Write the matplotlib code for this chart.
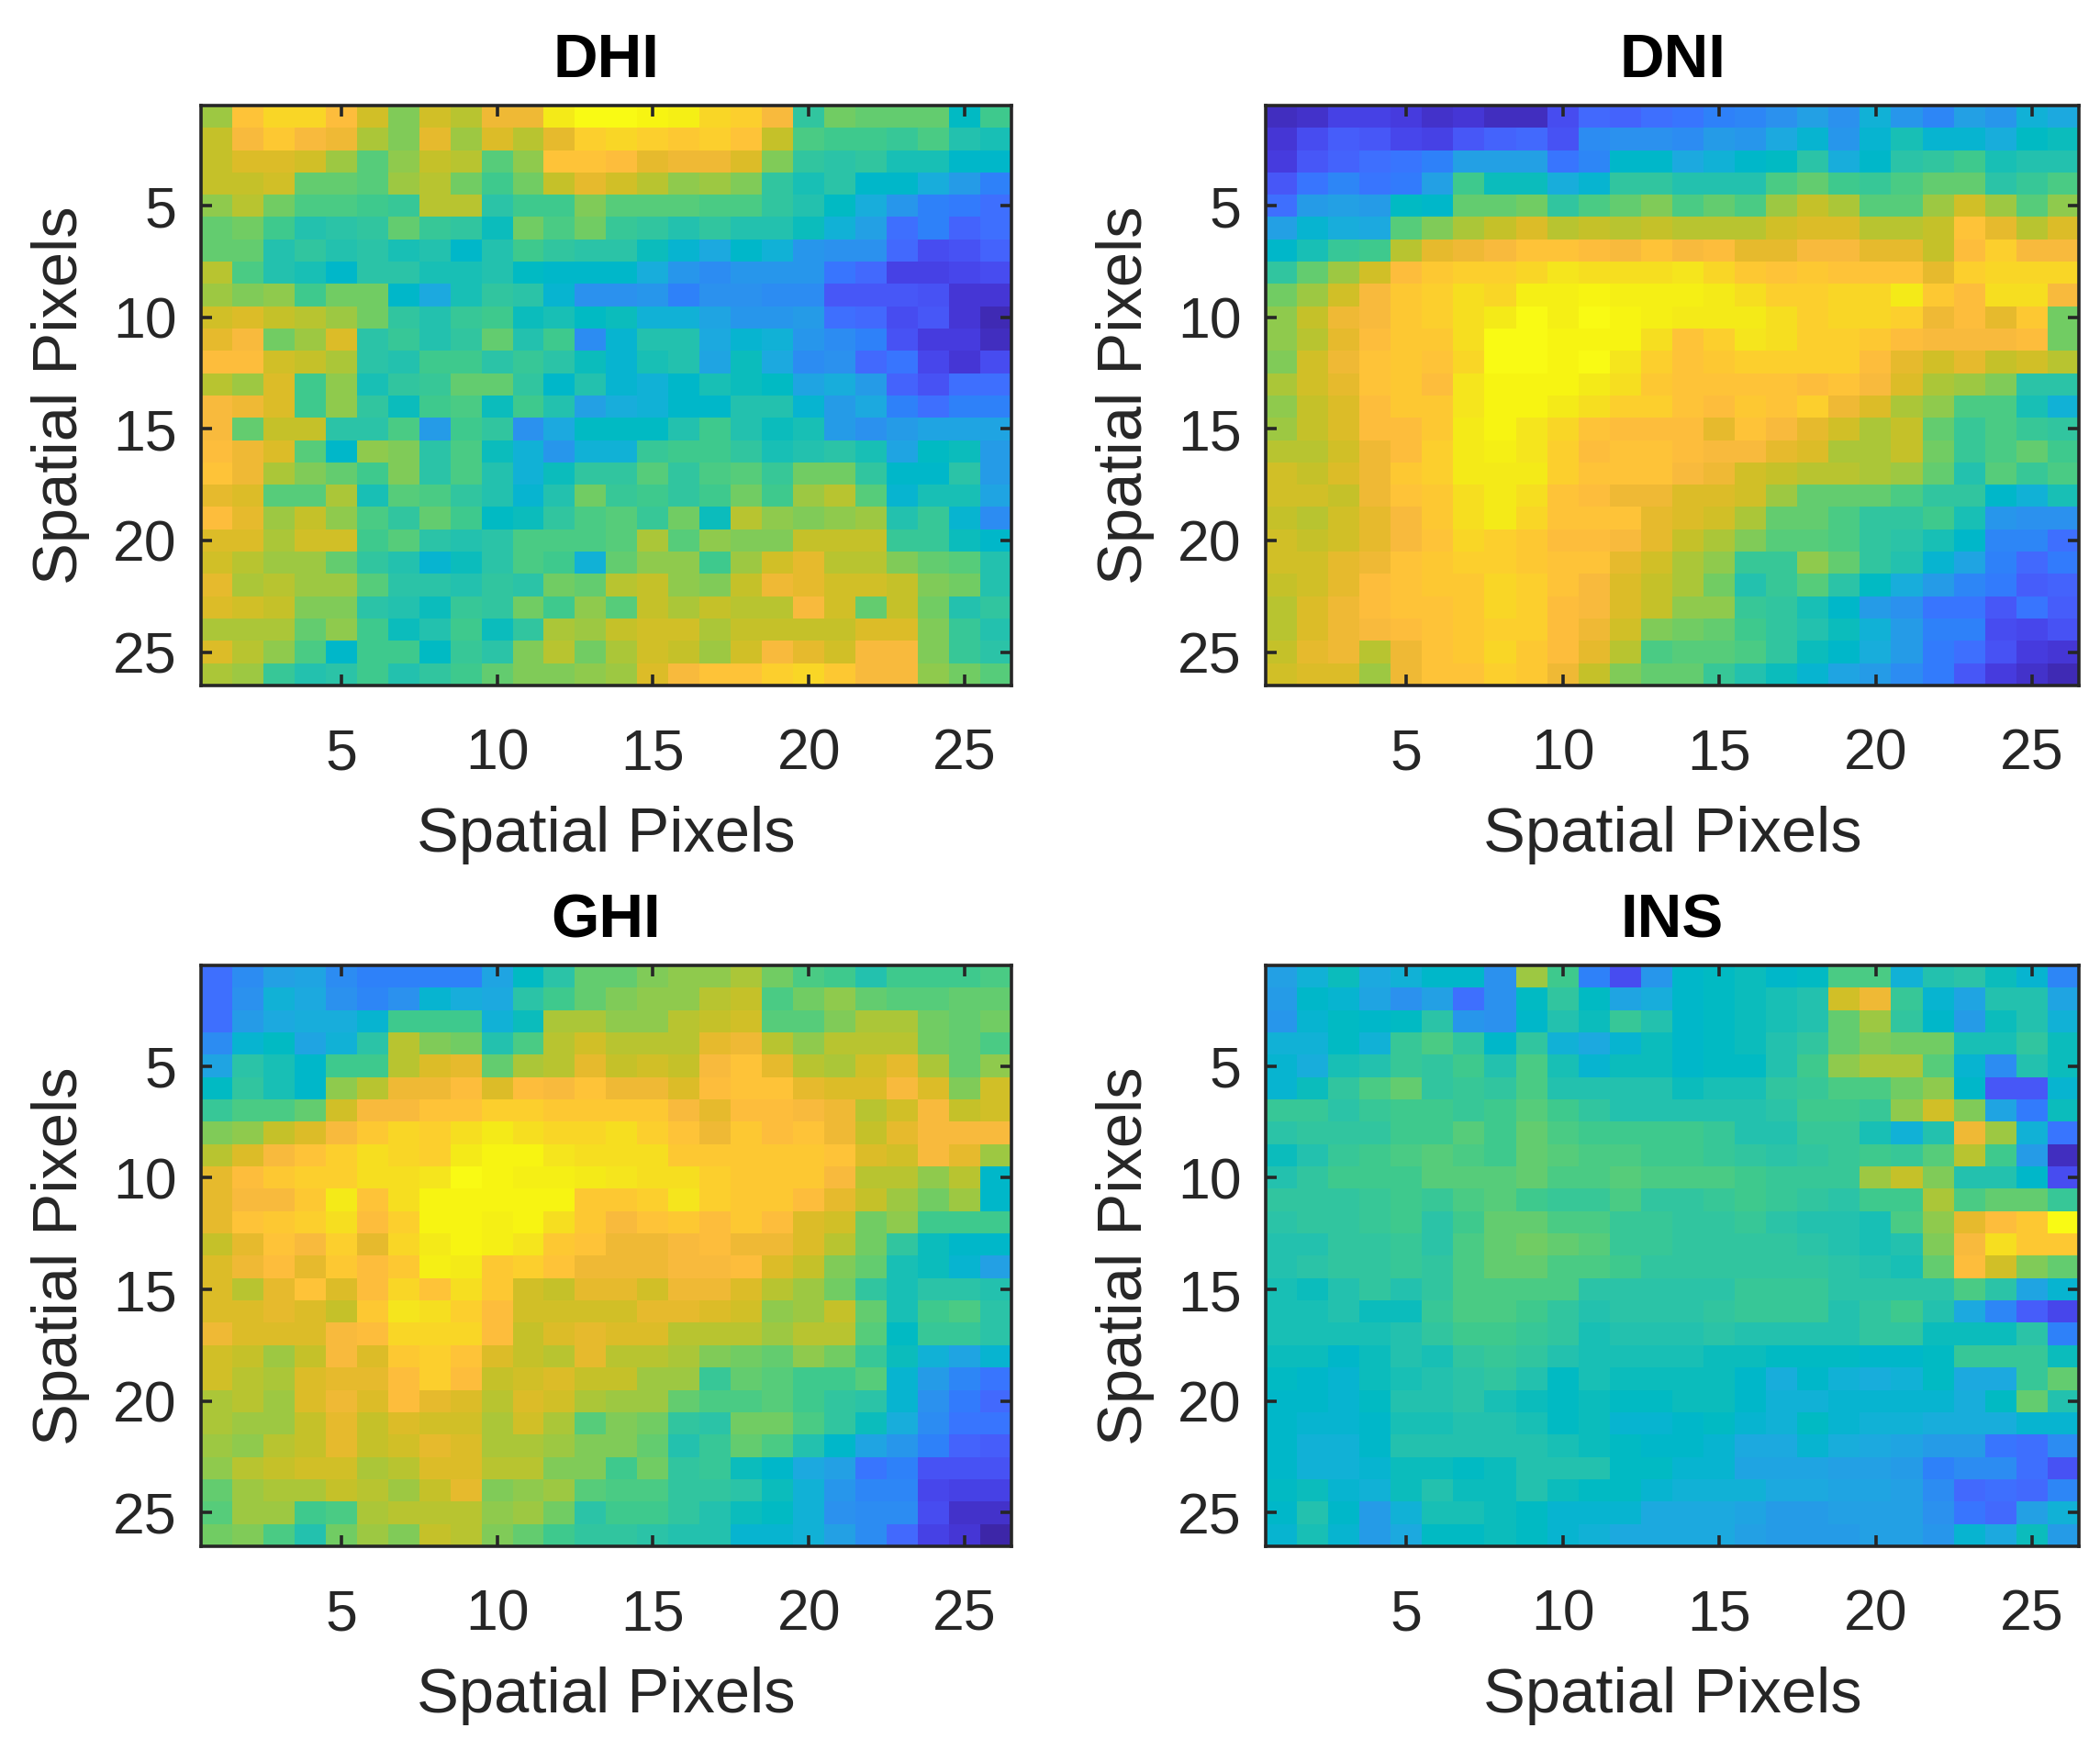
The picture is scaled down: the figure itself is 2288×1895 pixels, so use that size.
import numpy as np
import matplotlib
matplotlib.use("Agg")
import matplotlib.pyplot as plt
from matplotlib.colors import ListedColormap

plt.rcParams['font.family'] = ['Liberation Sans', 'DejaVu Sans']

titles = ["DHI", "DNI", "GHI", "INS"]
tick_values = [5, 10, 15, 20, 25]
axis_label = "Spatial Pixels"

dhi = [
[44,54,57,57,53,48,42,48,46,51,51,60,63,63,62,61,57,56,52,35,41,40,40,40,30,37],
[47,52,55,52,51,45,42,50,44,49,46,50,56,57,56,55,56,54,47,38,37,37,36,38,33,32],
[47,49,49,48,44,39,43,47,46,39,43,54,54,53,50,51,51,49,42,35,34,35,32,32,29,29],
[47,47,48,40,40,39,44,46,41,37,41,47,50,48,46,43,44,42,35,32,34,29,29,26,22,17],
[43,46,41,38,38,37,36,46,46,34,37,37,42,39,39,39,38,38,35,33,30,26,21,17,16,14],
[40,41,37,33,34,35,40,36,35,31,41,38,41,36,35,33,35,33,33,31,27,23,14,17,12,14],
[40,40,33,35,33,34,32,33,29,33,37,35,34,34,31,28,25,29,27,21,20,20,13,8,9,12],
[46,38,33,32,29,34,34,32,32,33,30,29,29,29,26,21,19,21,21,21,15,13,6,6,7,8],
[44,42,43,37,41,41,29,25,32,35,34,28,20,20,21,17,20,20,19,19,10,10,10,9,4,4],
[48,49,47,46,44,41,35,33,36,37,31,32,30,31,27,27,24,21,21,22,14,13,8,10,4,1],
[50,52,41,44,49,34,36,33,35,40,33,37,19,28,33,33,25,28,27,21,19,17,9,5,5,2],
[53,53,48,47,45,34,33,37,37,34,36,34,31,28,32,33,24,31,25,19,20,13,15,7,4,8],
[46,44,49,37,43,32,35,36,40,40,35,29,33,28,27,29,32,31,30,24,26,22,12,9,14,14],
[52,51,49,37,43,35,31,37,38,31,37,33,23,26,27,29,29,33,33,28,22,25,17,14,17,17],
[52,40,47,47,34,34,38,22,37,35,20,25,30,30,30,33,37,33,31,32,22,20,22,24,24,24],
[53,51,49,39,29,43,42,34,38,31,27,21,27,27,36,37,37,35,32,33,34,32,24,30,31,22],
[54,51,45,42,40,37,42,34,38,33,27,31,35,35,39,35,38,39,36,41,41,35,29,29,34,22],
[50,49,39,39,45,32,39,38,35,33,28,33,41,36,37,35,37,41,37,44,46,39,28,32,32,24],
[53,50,44,47,43,38,35,40,37,30,31,35,38,39,36,41,31,46,43,42,43,44,33,36,28,19],
[49,49,45,48,48,37,39,34,33,34,38,38,38,39,45,39,43,42,42,47,47,47,36,36,31,29],
[48,46,44,44,40,35,33,28,31,34,38,37,27,40,43,43,37,44,48,50,46,46,42,40,39,33],
[50,45,46,44,44,39,34,34,33,35,34,41,40,46,47,43,42,47,51,50,48,48,47,42,41,33],
[49,48,47,42,42,34,33,31,36,35,41,37,43,39,47,45,47,46,46,52,48,40,47,41,33,35],
[45,45,45,40,43,37,31,33,37,31,35,45,44,47,48,48,45,47,47,47,47,49,49,42,36,33],
[49,46,43,38,29,37,37,30,36,34,42,46,41,45,48,47,44,48,52,50,48,52,52,42,36,34],
[45,44,36,33,34,37,33,35,37,40,42,42,43,44,49,52,54,54,56,57,55,52,52,43,41,39],
]

dni = [
[2,3,6,6,5,3,4,2,2,8,13,12,14,15,17,18,20,23,20,27,21,18,23,21,27,25],
[4,8,11,10,7,6,10,12,13,9,19,20,20,19,22,21,25,28,21,28,32,28,28,26,30,31],
[5,10,12,14,15,17,23,23,23,15,18,29,29,25,27,29,30,34,26,29,34,35,37,32,33,33],
[10,15,18,15,16,23,37,31,31,26,28,35,35,33,33,33,38,40,37,36,38,40,40,34,36,38],
[14,22,23,22,30,29,40,40,41,35,38,40,42,38,40,38,44,47,45,39,39,44,48,44,39,43],
[23,28,26,25,39,42,45,47,49,46,47,46,47,46,46,46,48,49,49,46,46,47,54,50,46,49],
[29,32,36,37,46,50,51,52,54,54,53,52,54,52,53,50,50,52,52,50,50,47,53,56,52,52],
[35,40,44,48,53,55,56,56,57,59,58,58,58,59,57,55,54,55,54,54,54,50,56,57,57,57],
[41,44,48,52,55,56,58,57,61,61,62,61,61,61,60,58,56,56,57,57,60,55,53,58,58,52],
[43,47,51,52,55,56,58,60,63,61,63,62,61,60,60,60,58,56,57,57,56,51,53,50,55,41],
[43,46,50,53,55,55,58,63,63,62,62,62,58,54,56,59,58,56,56,55,53,52,52,52,53,41],
[42,48,51,54,55,54,57,63,63,62,63,59,56,54,55,56,56,56,56,53,50,48,50,47,48,46],
[45,48,50,54,55,53,59,62,62,62,60,58,55,54,54,54,54,53,54,52,49,45,44,42,34,34],
[43,47,49,53,55,55,59,62,62,60,58,56,56,54,53,55,54,56,51,49,45,43,38,38,32,27],
[44,47,49,53,53,55,60,62,59,57,54,53,53,53,50,54,52,50,48,45,47,40,36,38,36,35],
[46,46,48,51,53,56,60,61,59,56,53,54,54,53,52,52,50,49,45,45,47,41,36,38,40,37],
[48,47,49,51,55,56,60,60,60,56,54,54,54,52,51,48,47,46,46,45,44,40,33,39,36,38],
[48,48,47,51,54,55,58,60,58,54,53,51,51,49,49,48,44,40,40,40,38,35,35,29,27,32],
[47,46,48,50,52,55,58,60,57,54,54,54,50,49,48,45,40,40,38,35,35,37,32,21,20,20],
[48,47,48,50,52,54,57,56,55,53,53,52,50,47,45,42,39,39,38,35,34,32,29,18,18,14],
[48,48,50,51,54,55,56,56,55,54,54,50,48,45,43,36,36,43,40,35,33,28,24,17,13,16],
[47,48,50,53,54,55,55,57,56,54,52,49,47,45,41,33,36,39,34,30,26,22,18,16,11,12],
[46,49,51,53,54,54,55,57,56,53,52,49,47,43,43,36,35,32,29,22,20,15,15,10,15,11],
[46,49,51,52,53,54,55,56,56,53,51,48,42,41,40,37,35,33,31,27,22,17,17,8,7,9],
[47,50,51,46,51,54,55,57,55,53,50,46,38,39,39,38,35,31,29,26,22,16,14,9,5,4],
[48,49,49,44,51,54,54,56,55,51,47,42,40,40,36,33,31,28,24,22,19,16,10,5,3,1],
]

ghi = [
[14,19,23,24,19,17,17,17,17,24,30,34,40,40,42,43,43,45,41,38,37,33,37,37,37,38],
[14,20,27,25,20,18,20,28,26,25,34,37,40,42,43,43,46,47,38,41,43,40,39,39,40,40],
[14,22,25,26,26,28,37,37,37,27,31,45,45,43,43,46,47,48,39,39,42,45,45,41,40,41],
[19,28,30,24,27,34,46,42,41,33,38,46,48,46,46,46,50,51,46,43,46,46,46,41,40,38],
[24,34,32,29,37,37,46,49,50,40,45,46,50,47,48,47,52,54,50,46,45,48,50,45,40,43],
[30,35,32,29,43,46,51,51,53,49,53,52,54,51,51,49,53,54,54,50,49,49,52,49,42,48],
[36,38,38,40,48,52,52,54,54,56,56,55,55,55,55,52,50,53,53,52,51,46,48,52,47,48],
[42,43,47,49,52,55,57,56,58,60,58,57,57,58,56,54,51,55,53,54,51,47,50,52,52,52],
[46,49,52,54,56,58,57,56,60,62,62,59,58,58,58,55,55,55,55,55,54,49,48,52,50,44],
[50,53,55,56,56,58,58,59,63,62,61,61,60,59,58,58,56,55,55,55,52,46,46,43,46,29],
[50,52,52,55,60,54,58,62,62,62,62,62,55,55,56,59,56,55,55,53,50,47,44,41,44,29],
[50,54,55,56,58,53,56,62,62,61,62,58,55,52,54,55,53,55,53,49,48,41,43,37,37,37],
[47,50,54,52,56,50,57,60,62,61,59,55,54,51,51,52,53,51,51,49,46,41,35,31,29,29],
[49,51,53,50,55,53,55,61,60,55,56,54,51,51,51,52,52,53,49,47,42,40,32,31,28,23],
[49,46,50,54,49,53,57,54,58,55,48,47,50,50,48,51,51,49,46,44,41,35,32,34,34,33],
[49,49,50,49,47,55,59,58,56,53,48,48,48,48,50,50,49,48,43,44,47,40,32,37,38,34],
[51,49,49,49,52,53,57,57,57,53,47,49,50,49,49,46,46,46,44,46,46,39,30,36,36,34],
[48,47,44,47,52,49,55,56,54,49,47,46,50,46,46,45,42,41,40,43,41,36,31,27,24,28],
[48,46,45,49,50,50,53,56,53,47,48,49,47,47,44,44,36,40,39,37,37,39,28,22,18,15],
[45,46,44,49,51,49,53,50,49,46,49,48,45,44,44,40,38,38,39,37,35,34,28,20,16,13],
[45,44,44,47,50,47,49,48,48,45,48,45,39,42,41,35,34,41,41,38,35,31,26,19,15,15],
[44,43,46,47,50,47,48,50,49,45,45,44,42,42,40,33,36,40,38,33,29,24,21,17,12,11],
[43,46,47,48,48,45,46,49,49,46,46,42,42,37,41,35,36,31,29,25,23,15,17,9,9,9],
[40,44,45,45,47,46,44,47,50,42,43,44,39,38,38,35,35,34,31,27,21,18,18,7,6,6],
[39,44,44,37,38,45,46,46,46,43,44,41,34,37,37,35,33,31,30,27,20,19,19,8,3,3],
[41,42,38,33,41,44,42,47,46,42,40,37,35,35,34,33,33,28,28,27,23,19,13,6,4,0],
]

ins = [
[23,27,31,25,27,29,29,20,44,37,17,8,21,29,30,31,29,30,38,38,27,33,34,31,28,18],
[22,29,28,24,20,23,14,20,30,35,30,24,26,29,30,31,32,33,48,51,36,28,24,33,33,24],
[21,28,30,29,30,34,21,20,29,33,31,36,33,29,30,31,32,33,40,44,35,29,22,31,33,27],
[27,27,30,27,36,38,35,29,35,27,25,28,31,29,30,31,33,35,40,42,41,41,32,32,35,31],
[28,26,32,33,36,35,37,33,38,32,28,31,31,29,30,30,33,37,43,45,45,39,28,19,33,31],
[28,31,35,38,40,35,36,35,38,33,33,33,33,31,32,32,35,36,38,38,41,43,29,10,10,28],
[36,36,34,36,37,37,36,37,39,37,35,33,33,33,33,33,34,37,37,36,43,48,42,24,16,31],
[34,35,35,35,37,37,39,37,40,38,37,37,37,37,36,33,33,36,36,32,27,33,51,44,27,15],
[31,33,36,37,38,39,38,37,40,39,38,38,37,37,36,35,34,35,36,37,36,39,46,37,22,2],
[33,35,37,37,37,39,39,39,40,38,38,39,38,38,38,37,36,36,36,44,47,42,33,33,29,8],
[35,35,35,36,37,36,38,39,37,36,36,38,35,35,36,37,36,35,34,37,37,45,38,40,40,36],
[34,35,35,36,37,34,37,40,40,38,38,36,36,35,35,36,34,33,33,32,38,43,50,53,55,63],
[33,33,35,35,36,34,38,40,41,40,39,36,36,35,35,35,35,34,33,32,33,42,52,58,55,55],
[33,34,35,35,36,35,38,40,40,38,38,37,35,35,35,35,35,35,34,33,32,40,53,48,42,40],
[32,31,33,35,33,35,38,38,38,38,34,34,34,34,34,36,36,36,34,34,34,34,38,34,24,28],
[32,32,33,31,31,36,38,38,37,35,33,34,34,34,35,36,36,36,33,35,37,33,25,18,11,7],
[32,32,32,32,33,35,37,37,36,35,32,33,33,33,34,33,33,33,33,35,35,31,31,31,34,17],
[31,31,29,31,33,32,35,36,35,33,32,32,32,32,31,31,30,30,30,29,29,30,36,36,36,31],
[30,29,28,31,32,33,34,35,33,30,32,31,31,31,31,29,26,29,27,26,27,30,25,25,36,40],
[29,29,28,30,33,33,34,32,31,30,31,30,30,31,31,29,27,27,28,28,28,28,26,30,40,33],
[29,28,28,29,32,32,33,33,32,30,31,28,28,29,30,28,27,30,28,27,27,26,26,26,28,28],
[29,27,27,29,33,33,33,33,33,32,31,30,29,29,28,25,25,28,26,25,24,22,22,15,14,19],
[29,27,27,28,31,31,30,31,33,33,33,30,30,28,28,24,24,24,23,23,22,17,19,19,14,9],
[30,31,28,27,31,33,31,31,33,31,30,30,28,27,27,27,25,25,24,24,23,19,13,14,13,18],
[29,33,29,22,27,32,32,31,30,28,28,28,25,25,25,24,22,22,23,23,23,20,15,13,23,27],
[28,32,28,22,25,30,30,31,30,28,27,25,25,25,25,23,22,22,22,23,23,21,28,25,31,22],
]

parula_rgb = [
[0.2422,0.1504,0.6603],[0.2504,0.1650,0.7076],[0.2578,0.1818,0.7511],[0.2647,0.1978,0.7952],
[0.2706,0.2147,0.8364],[0.2751,0.2342,0.8710],[0.2783,0.2559,0.8991],[0.2803,0.2782,0.9221],
[0.2813,0.3006,0.9414],[0.2810,0.3228,0.9579],[0.2795,0.3447,0.9717],[0.2760,0.3667,0.9829],
[0.2699,0.3892,0.9906],[0.2602,0.4123,0.9952],[0.2440,0.4358,0.9988],[0.2206,0.4603,0.9973],
[0.1963,0.4847,0.9892],[0.1834,0.5074,0.9798],[0.1786,0.5289,0.9682],[0.1764,0.5499,0.9520],
[0.1687,0.5703,0.9359],[0.1540,0.5902,0.9218],[0.1460,0.6091,0.9079],[0.1380,0.6276,0.8973],
[0.1248,0.6459,0.8883],[0.1113,0.6635,0.8763],[0.0952,0.6798,0.8598],[0.0689,0.6948,0.8394],
[0.0297,0.7082,0.8163],[0.0036,0.7203,0.7917],[0.0067,0.7312,0.7660],[0.0433,0.7411,0.7394],
[0.0964,0.7500,0.7120],[0.1408,0.7584,0.6842],[0.1717,0.7670,0.6554],[0.1938,0.7758,0.6251],
[0.2161,0.7843,0.5923],[0.2470,0.7918,0.5567],[0.2906,0.7973,0.5188],[0.3406,0.8008,0.4789],
[0.3909,0.8029,0.4354],[0.4456,0.8024,0.3909],[0.5044,0.7993,0.3480],[0.5616,0.7942,0.3045],
[0.6174,0.7876,0.2612],[0.6720,0.7793,0.2227],[0.7242,0.7698,0.1910],[0.7738,0.7598,0.1646],
[0.8203,0.7498,0.1535],[0.8634,0.7406,0.1596],[0.9035,0.7330,0.1774],[0.9393,0.7288,0.2100],
[0.9728,0.7298,0.2394],[0.9956,0.7434,0.2371],[0.9970,0.7659,0.2199],[0.9952,0.7861,0.1990],
[0.9892,0.8130,0.1768],[0.9786,0.8422,0.1504],[0.9676,0.8726,0.1266],[0.9610,0.8991,0.1138],
[0.9597,0.9203,0.0980],[0.9628,0.9373,0.0843],[0.9691,0.9606,0.0706],[0.9769,0.9839,0.0805],
]
parula = ListedColormap(parula_rgb)

W, H = 2288, 1895
fig = plt.figure(figsize=(W / 100, H / 100), dpi=100)
ink = '#262626'
boxes = [(219, 115, 1102, 747), (1379, 115, 2265, 747),
         (219, 1052, 1102, 1685), (1379, 1052, 2265, 1685)]
panels = [dhi, dni, ghi, ins]

for title, grid, (x0, y0, x1, y1) in zip(titles, panels, boxes):
    ax = fig.add_axes([x0 / W, 1 - y1 / H, (x1 - x0) / W, (y1 - y0) / H])
    ax.imshow(np.array(grid), cmap=parula, vmin=0, vmax=63, aspect='auto',
              interpolation='nearest', extent=(0.5, 26.5, 26.5, 0.5))
    ax.set_xticks(tick_values)
    ax.set_yticks(tick_values)
    ax.tick_params(axis='both', direction='in', top=True, right=True, length=8.5,
                   width=2.6, labelsize=45, colors=ink)
    ax.tick_params(axis='x', pad=33)
    ax.tick_params(axis='y', pad=19)
    for s in ax.spines.values():
        s.set_linewidth(2.6)
        s.set_color(ink)
    ax.set_xlabel(axis_label, fontsize=49.5, color=ink, labelpad=19)
    ax.set_ylabel(axis_label, fontsize=49.5, color=ink, labelpad=18)
    ax.set_title(title, fontsize=48.5, fontweight='bold', color='black', pad=22)

fig.savefig('out.png', dpi=100)
